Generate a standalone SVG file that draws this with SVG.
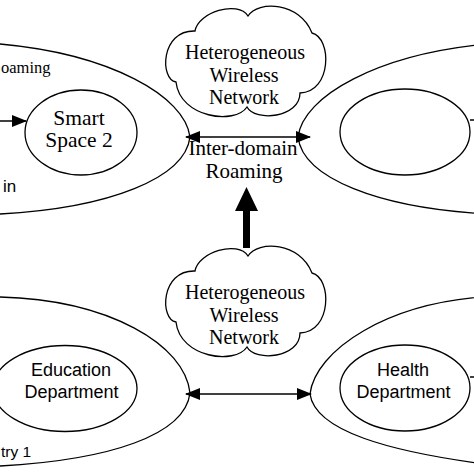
<svg xmlns="http://www.w3.org/2000/svg" width="474" height="474" viewBox="0 0 474 474">
<style>
.o{fill:none;stroke:#000;stroke-width:1.3}
.c{fill:#fff;stroke:#000;stroke-width:1.3}
.ln{fill:none;stroke:#000;stroke-width:1.5}
.s{font-family:"Liberation Serif","Times New Roman",serif;fill:#000;text-anchor:middle}
.a{font-family:"Liberation Sans",Arial,sans-serif;fill:#000;text-anchor:middle}
</style>
<defs>
<marker id="ah" viewBox="0 0 15 12" refX="14" refY="6" markerWidth="15" markerHeight="12" markerUnits="userSpaceOnUse" orient="auto-start-reverse">
<path d="M0,0 L15,6 L0,12 Z" fill="#000"/>
</marker>
<path id="cloud" d="M195,31 C198,12 238,0 248,16 C258,0 300,2 312,33 C332,38 332,92 300,93 C300,118 255,122 247,107 C235,125 180,118 176,82 C160,80 160,30 195,31 Z"/>
</defs>
<rect width="474" height="474" fill="#fff"/>

<g id="domain-top-left">
<path class="o" d="M190,137 C185,96 110,54 0,44 C-80,40 -80,216 0,214 C110,208 185,178 190,137 Z"/>
<text class="s" x="1" y="73" font-size="16.5" style="text-anchor:start">oaming</text>
<text class="a" x="3" y="192" font-size="17" style="text-anchor:start">in</text>
</g>
<g id="smart-space-2">
<ellipse class="o" cx="81" cy="132.5" rx="56" ry="42.5"/>
<text class="s" x="79" y="125" font-size="21.5">Smart</text>
<text class="s" x="79" y="147" font-size="21.5">Space 2</text>
</g>
<g id="domain-top-right">
<path class="o" d="M298,137 C303,96 378,54 488,44 C568,40 568,216 488,214 C378,208 303,178 298,137 Z"/>
</g>
<g id="space-top-right">
<ellipse class="o" cx="405" cy="132" rx="65" ry="43"/>
</g>
<g id="cloud-top">
<use href="#cloud" class="c"/>
<text class="s" x="245" y="59" font-size="20">Heterogeneous</text>
<text class="s" x="244" y="82" font-size="20">Wireless</text>
<text class="s" x="244" y="104" font-size="20">Network</text>
</g>
<g id="label-inter-domain">
<text class="s" x="243" y="155" font-size="21">Inter-domain</text>
<text class="s" x="244" y="178" font-size="21">Roaming</text>
</g>
<g id="cloud-bottom">
<use href="#cloud" class="c" transform="translate(0,240)"/>
<text class="s" x="245" y="299" font-size="20">Heterogeneous</text>
<text class="s" x="244" y="322" font-size="20">Wireless</text>
<text class="s" x="244" y="344" font-size="20">Network</text>
</g>
<g id="domain-bottom-left">
<path class="o" d="M190,393 C185,345 110,300 0,297 C-80,295 -80,467 0,466 C110,460 185,435 190,393 Z"/>
<text class="a" x="1" y="457" font-size="15.5" style="text-anchor:start">try 1</text>
</g>
<g id="education-department">
<ellipse class="o" cx="65" cy="388.5" rx="72" ry="43"/>
<text class="a" x="71" y="376" font-size="18">Education</text>
<text class="a" x="71.5" y="398" font-size="18">Department</text>
</g>
<g id="domain-bottom-right">
<path class="o" d="M310,394 C315,352 385,300 500,296 C580,294 580,468 500,466 C385,452 315,430 310,394 Z"/>
</g>
<g id="health-department">
<ellipse class="o" cx="405" cy="388" rx="65" ry="43"/>
<text class="a" x="403" y="376" font-size="18">Health</text>
<text class="a" x="403.5" y="398" font-size="18">Department</text>
</g>

<g id="connectors">
<line class="ln" x1="-5" y1="121" x2="26" y2="121" marker-end="url(#ah)"/>
<line class="ln" x1="186" y1="137" x2="310" y2="137" marker-start="url(#ah)" marker-end="url(#ah)"/>
<line class="ln" x1="186" y1="394" x2="311" y2="394" marker-start="url(#ah)" marker-end="url(#ah)"/>
<line class="ln" x1="470" y1="120" x2="476" y2="120"/>
<line class="ln" x1="470" y1="377" x2="476" y2="377"/>
<path d="M243,248 L243,211 L235,211 L246.5,187 L258,211 L250,211 L250,248 Z" fill="#000"/>
</g>
</svg>
